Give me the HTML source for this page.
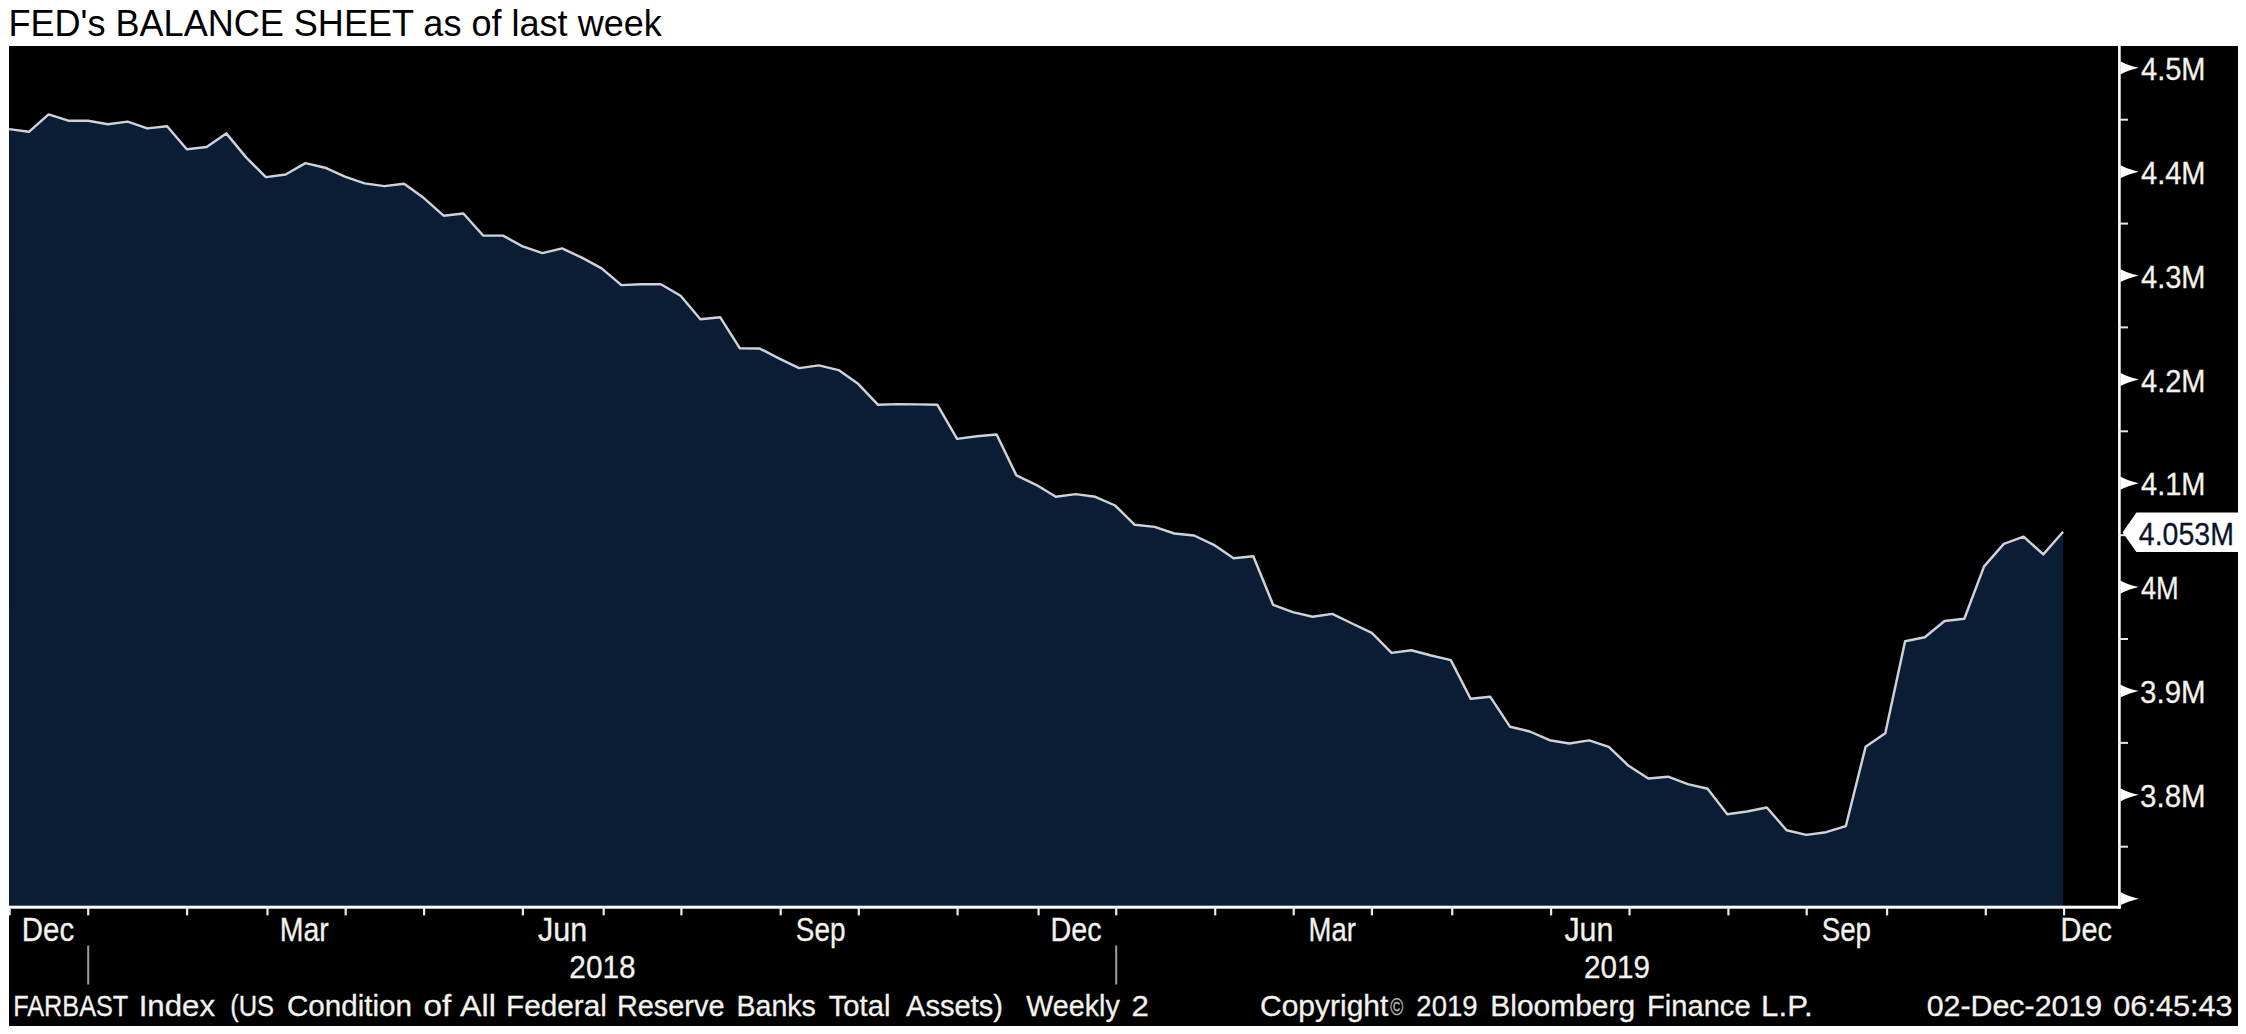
<!DOCTYPE html>
<html><head><meta charset="utf-8"><title>FED's BALANCE SHEET</title>
<style>
html,body{margin:0;padding:0;background:#fff;}
body{width:2246px;height:1034px;overflow:hidden;position:relative;font-family:"Liberation Sans",sans-serif;}
#title{position:absolute;left:8.5px;top:1.6px;font-size:36.05px;line-height:44px;color:#000;white-space:nowrap;}
#chart{position:absolute;left:9px;top:46px;width:2229px;height:980px;background:#000;}
svg text{font-family:"Liberation Sans",sans-serif;white-space:pre;}
</style></head><body>
<div id="title">FED's BALANCE SHEET as of last week</div>
<svg id="chart" width="2229" height="980" viewBox="0 0 2229 980">
<rect x="0" y="0" width="2229" height="980" fill="#000"/>
<path d="M0.1,83.1 L19.9,85.8 L39.6,68.4 L59.3,74.7 L79.1,74.7 L98.8,78.3 L118.6,75.6 L138.3,82.4 L158.1,80.3 L177.8,103.2 L197.6,101.0 L217.3,87.4 L237.1,111.4 L256.9,131.1 L276.6,128.5 L296.4,117.1 L316.1,121.7 L335.9,130.7 L355.6,137.4 L375.4,140.1 L395.1,137.8 L414.9,152.1 L434.6,169.7 L454.4,167.5 L474.1,189.5 L493.9,189.6 L513.6,200.3 L533.4,207.1 L553.1,202.4 L572.9,211.7 L592.6,222.4 L612.4,239.1 L632.1,238.2 L651.9,238.2 L671.6,249.8 L691.4,273.2 L711.1,271.2 L730.9,302.3 L750.6,302.5 L770.4,312.7 L790.1,322.1 L809.9,319.4 L829.6,324.1 L849.4,338.1 L869.1,358.8 L888.9,358.1 L908.6,358.4 L928.4,358.8 L948.1,392.9 L967.9,390.2 L987.6,388.5 L1007.4,429.4 L1027.1,438.8 L1046.8,450.8 L1066.6,448.1 L1086.3,450.8 L1106.1,459.5 L1125.8,478.8 L1145.6,480.9 L1165.3,487.5 L1185.1,489.5 L1204.8,498.8 L1224.6,512.2 L1244.3,510.2 L1264.1,558.8 L1283.8,566.1 L1303.6,570.8 L1323.3,567.9 L1343.1,577.5 L1362.8,586.8 L1382.6,606.9 L1402.3,604.2 L1422.1,609.5 L1441.8,614.1 L1461.6,652.8 L1481.3,650.8 L1501.1,680.8 L1520.8,685.5 L1540.6,694.2 L1560.3,697.5 L1580.1,694.4 L1599.8,700.8 L1619.6,719.8 L1639.3,732.5 L1659.1,730.7 L1678.8,738.1 L1698.6,742.8 L1718.3,768.2 L1738.1,765.5 L1757.8,761.5 L1777.6,784.2 L1797.3,788.9 L1817.1,786.2 L1836.8,780.2 L1856.6,700.8 L1876.3,687.2 L1896.1,595.2 L1915.8,591.2 L1935.6,575.0 L1955.3,572.7 L1975.1,520.4 L1994.8,497.9 L2014.6,490.7 L2034.3,508.4 L2054.1,485.8 L2054.1,861.2 L0,861.2 Z" fill="#0a1d35"/>
<path d="M0.1,83.1 L19.9,85.8 L39.6,68.4 L59.3,74.7 L79.1,74.7 L98.8,78.3 L118.6,75.6 L138.3,82.4 L158.1,80.3 L177.8,103.2 L197.6,101.0 L217.3,87.4 L237.1,111.4 L256.9,131.1 L276.6,128.5 L296.4,117.1 L316.1,121.7 L335.9,130.7 L355.6,137.4 L375.4,140.1 L395.1,137.8 L414.9,152.1 L434.6,169.7 L454.4,167.5 L474.1,189.5 L493.9,189.6 L513.6,200.3 L533.4,207.1 L553.1,202.4 L572.9,211.7 L592.6,222.4 L612.4,239.1 L632.1,238.2 L651.9,238.2 L671.6,249.8 L691.4,273.2 L711.1,271.2 L730.9,302.3 L750.6,302.5 L770.4,312.7 L790.1,322.1 L809.9,319.4 L829.6,324.1 L849.4,338.1 L869.1,358.8 L888.9,358.1 L908.6,358.4 L928.4,358.8 L948.1,392.9 L967.9,390.2 L987.6,388.5 L1007.4,429.4 L1027.1,438.8 L1046.8,450.8 L1066.6,448.1 L1086.3,450.8 L1106.1,459.5 L1125.8,478.8 L1145.6,480.9 L1165.3,487.5 L1185.1,489.5 L1204.8,498.8 L1224.6,512.2 L1244.3,510.2 L1264.1,558.8 L1283.8,566.1 L1303.6,570.8 L1323.3,567.9 L1343.1,577.5 L1362.8,586.8 L1382.6,606.9 L1402.3,604.2 L1422.1,609.5 L1441.8,614.1 L1461.6,652.8 L1481.3,650.8 L1501.1,680.8 L1520.8,685.5 L1540.6,694.2 L1560.3,697.5 L1580.1,694.4 L1599.8,700.8 L1619.6,719.8 L1639.3,732.5 L1659.1,730.7 L1678.8,738.1 L1698.6,742.8 L1718.3,768.2 L1738.1,765.5 L1757.8,761.5 L1777.6,784.2 L1797.3,788.9 L1817.1,786.2 L1836.8,780.2 L1856.6,700.8 L1876.3,687.2 L1896.1,595.2 L1915.8,591.2 L1935.6,575.0 L1955.3,572.7 L1975.1,520.4 L1994.8,497.9 L2014.6,490.7 L2034.3,508.4 L2054.1,485.8" fill="none" stroke="#cfd3d7" stroke-width="2.45" stroke-linejoin="round"/>
<rect x="0" y="859.7" width="2111.7" height="3" fill="#fff"/>
<rect x="2109.1" y="0" width="2.6" height="862.7" fill="#fff"/>
<rect x="0" y="861.2" width="1.8" height="8.2" fill="#e6e6e6"/><rect x="78.1" y="861.2" width="2.2" height="8.2" fill="#ececec"/><rect x="177.0" y="861.2" width="2.2" height="8.2" fill="#ececec"/><rect x="257.4" y="861.2" width="2.2" height="8.2" fill="#ececec"/><rect x="335.6" y="861.2" width="2.2" height="8.2" fill="#ececec"/><rect x="414.0" y="861.2" width="2.2" height="8.2" fill="#ececec"/><rect x="512.8" y="861.2" width="2.2" height="8.2" fill="#ececec"/><rect x="593.6" y="861.2" width="2.2" height="8.2" fill="#ececec"/><rect x="671.3" y="861.2" width="2.2" height="8.2" fill="#ececec"/><rect x="770.6" y="861.2" width="2.2" height="8.2" fill="#ececec"/><rect x="848.7" y="861.2" width="2.2" height="8.2" fill="#ececec"/><rect x="947.5" y="861.2" width="2.2" height="8.2" fill="#ececec"/><rect x="1028.5" y="861.2" width="2.2" height="8.2" fill="#ececec"/><rect x="1106.1" y="861.2" width="2.2" height="8.2" fill="#ececec"/><rect x="1205.1" y="861.2" width="2.2" height="8.2" fill="#ececec"/><rect x="1283.6" y="861.2" width="2.2" height="8.2" fill="#ececec"/><rect x="1361.8" y="861.2" width="2.2" height="8.2" fill="#ececec"/><rect x="1442.1" y="861.2" width="2.2" height="8.2" fill="#ececec"/><rect x="1541.0" y="861.2" width="2.2" height="8.2" fill="#ececec"/><rect x="1619.4" y="861.2" width="2.2" height="8.2" fill="#ececec"/><rect x="1718.3" y="861.2" width="2.2" height="8.2" fill="#ececec"/><rect x="1796.6" y="861.2" width="2.2" height="8.2" fill="#ececec"/><rect x="1877.0" y="861.2" width="2.2" height="8.2" fill="#ececec"/><rect x="1975.7" y="861.2" width="2.2" height="8.2" fill="#ececec"/><rect x="2054.0" y="861.2" width="2.2" height="8.2" fill="#ececec"/>
<rect x="78.2" y="899.5" width="2" height="39" fill="#9c9c9c"/><rect x="1106.2" y="899.5" width="2" height="39" fill="#9c9c9c"/>
<rect x="2110.4" y="72.7" width="8.6" height="2" fill="#e6e6e6"/><rect x="2110.4" y="176.6" width="8.6" height="2" fill="#e6e6e6"/><rect x="2110.4" y="280.4" width="8.6" height="2" fill="#e6e6e6"/><rect x="2110.4" y="384.3" width="8.6" height="2" fill="#e6e6e6"/><rect x="2110.4" y="488.2" width="8.6" height="2" fill="#e6e6e6"/><rect x="2110.4" y="592.0" width="8.6" height="2" fill="#e6e6e6"/><rect x="2110.4" y="695.9" width="8.6" height="2" fill="#e6e6e6"/><rect x="2110.4" y="799.7" width="8.6" height="2" fill="#e6e6e6"/>
<path d="M2111.4,15.2 Q2118.4,19.2 2129.7,21.8 Q2118.4,24.4 2111.4,28.4 Z" fill="#fff"/><path d="M2111.4,119.1 Q2118.4,123.1 2129.7,125.7 Q2118.4,128.3 2111.4,132.3 Z" fill="#fff"/><path d="M2111.4,222.9 Q2118.4,226.9 2129.7,229.5 Q2118.4,232.1 2111.4,236.1 Z" fill="#fff"/><path d="M2111.4,326.8 Q2118.4,330.8 2129.7,333.4 Q2118.4,336.0 2111.4,340.0 Z" fill="#fff"/><path d="M2111.4,430.6 Q2118.4,434.6 2129.7,437.2 Q2118.4,439.8 2111.4,443.8 Z" fill="#fff"/><path d="M2111.4,534.5 Q2118.4,538.5 2129.7,541.1 Q2118.4,543.7 2111.4,547.7 Z" fill="#fff"/><path d="M2111.4,638.4 Q2118.4,642.4 2129.7,645.0 Q2118.4,647.6 2111.4,651.6 Z" fill="#fff"/><path d="M2111.4,742.2 Q2118.4,746.2 2129.7,748.8 Q2118.4,751.4 2111.4,755.4 Z" fill="#fff"/><path d="M2111.4,846.1 Q2118.4,850.1 2129.7,852.7 Q2118.4,855.3 2111.4,859.3 Z" fill="#fff"/>
<path d="M2113.6,486.55 L2127.4,466.6 L2230,466.6 L2230,505.9 L2127.4,505.9 Z" fill="#fff"/>
<text transform="translate(2132.00,34.00) scale(0.9103,1)" font-size="31.9" fill="#f3f2ec" stroke="#f3f2ec" stroke-width="0.3">4.5M</text>
<text transform="translate(2132.00,137.86) scale(0.9103,1)" font-size="31.9" fill="#f3f2ec" stroke="#f3f2ec" stroke-width="0.3">4.4M</text>
<text transform="translate(2132.00,241.72) scale(0.9103,1)" font-size="31.9" fill="#f3f2ec" stroke="#f3f2ec" stroke-width="0.3">4.3M</text>
<text transform="translate(2132.00,345.58) scale(0.9103,1)" font-size="31.9" fill="#f3f2ec" stroke="#f3f2ec" stroke-width="0.3">4.2M</text>
<text transform="translate(2132.00,449.44) scale(0.9103,1)" font-size="31.9" fill="#f3f2ec" stroke="#f3f2ec" stroke-width="0.3">4.1M</text>
<text transform="translate(2132.00,553.30) scale(0.8530,1)" font-size="31.9" fill="#f3f2ec" stroke="#f3f2ec" stroke-width="0.3">4M</text>
<text transform="translate(2131.08,657.16) scale(0.9238,1)" font-size="31.9" fill="#f3f2ec" stroke="#f3f2ec" stroke-width="0.3">3.9M</text>
<text transform="translate(2131.08,761.02) scale(0.9238,1)" font-size="31.9" fill="#f3f2ec" stroke="#f3f2ec" stroke-width="0.3">3.8M</text>
<text transform="translate(12.80,894.90) scale(0.8994,1)" font-size="32.8" fill="#f3f2ec" stroke="#f3f2ec" stroke-width="0.3">Dec</text>
<text transform="translate(270.76,894.90) scale(0.8688,1)" font-size="32.8" fill="#f3f2ec" stroke="#f3f2ec" stroke-width="0.3">Mar</text>
<text transform="translate(528.90,894.90) scale(0.9315,1)" font-size="32.8" fill="#f3f2ec" stroke="#f3f2ec" stroke-width="0.3">Jun</text>
<text transform="translate(786.85,894.90) scale(0.8518,1)" font-size="32.8" fill="#f3f2ec" stroke="#f3f2ec" stroke-width="0.3">Sep</text>
<text transform="translate(1041.45,894.90) scale(0.8762,1)" font-size="32.8" fill="#f3f2ec" stroke="#f3f2ec" stroke-width="0.3">Dec</text>
<text transform="translate(1299.62,894.90) scale(0.8376,1)" font-size="32.8" fill="#f3f2ec" stroke="#f3f2ec" stroke-width="0.3">Mar</text>
<text transform="translate(1555.40,894.90) scale(0.9257,1)" font-size="32.8" fill="#f3f2ec" stroke="#f3f2ec" stroke-width="0.3">Jun</text>
<text transform="translate(1812.65,894.90) scale(0.8465,1)" font-size="32.8" fill="#f3f2ec" stroke="#f3f2ec" stroke-width="0.3">Sep</text>
<text transform="translate(2051.54,894.90) scale(0.8815,1)" font-size="32.8" fill="#f3f2ec" stroke="#f3f2ec" stroke-width="0.3">Dec</text>
<text transform="translate(560.37,931.50) scale(0.9349,1)" font-size="31.9" fill="#f3f2ec" stroke="#f3f2ec" stroke-width="0.3">2018</text>
<text transform="translate(1575.07,931.50) scale(0.9291,1)" font-size="31.9" fill="#f3f2ec" stroke="#f3f2ec" stroke-width="0.3">2019</text>
<text transform="translate(4.29,970.40) scale(0.8550,1)" font-size="29.5" fill="#f3f2ec" stroke="#f3f2ec" stroke-width="0.3">FARBAST</text>
<text transform="translate(129.68,970.40) scale(1.0594,1)" font-size="29.5" fill="#f3f2ec" stroke="#f3f2ec" stroke-width="0.3">Index</text>
<text transform="translate(221.13,970.40) scale(0.8651,1)" font-size="29.5" fill="#f3f2ec" stroke="#f3f2ec" stroke-width="0.3">(US</text>
<text transform="translate(277.90,970.40) scale(1.0046,1)" font-size="29.5" fill="#f3f2ec" stroke="#f3f2ec" stroke-width="0.3">Condition</text>
<text transform="translate(414.57,970.40) scale(1.1267,1)" font-size="29.5" fill="#f3f2ec" stroke="#f3f2ec" stroke-width="0.3">of</text>
<text transform="translate(451.00,970.40) scale(1.0919,1)" font-size="29.5" fill="#f3f2ec" stroke="#f3f2ec" stroke-width="0.3">All</text>
<text transform="translate(497.08,970.40) scale(1.0076,1)" font-size="29.5" fill="#f3f2ec" stroke="#f3f2ec" stroke-width="0.3">Federal</text>
<text transform="translate(607.94,970.40) scale(0.9791,1)" font-size="29.5" fill="#f3f2ec" stroke="#f3f2ec" stroke-width="0.3">Reserve</text>
<text transform="translate(727.57,970.40) scale(0.9667,1)" font-size="29.5" fill="#f3f2ec" stroke="#f3f2ec" stroke-width="0.3">Banks</text>
<text transform="translate(819.70,970.40) scale(0.9908,1)" font-size="29.5" fill="#f3f2ec" stroke="#f3f2ec" stroke-width="0.3">Total</text>
<text transform="translate(897.10,970.40) scale(0.9852,1)" font-size="29.5" fill="#f3f2ec" stroke="#f3f2ec" stroke-width="0.3">Assets)</text>
<text transform="translate(1017.30,970.40) scale(0.9717,1)" font-size="29.5" fill="#f3f2ec" stroke="#f3f2ec" stroke-width="0.3">Weekly</text>
<text transform="translate(1122.43,970.40) scale(1.0714,1)" font-size="29.1" fill="#f3f2ec" stroke="#f3f2ec" stroke-width="0.3">2</text>
<text transform="translate(1250.98,970.40) scale(1.0171,1)" font-size="29.5" fill="#f3f2ec" stroke="#f3f2ec" stroke-width="0.3">Copyright</text>
<text transform="translate(1407.36,970.40) scale(0.9450,1)" font-size="29.1" fill="#f3f2ec" stroke="#f3f2ec" stroke-width="0.3">2019</text>
<text transform="translate(1481.37,970.40) scale(1.0147,1)" font-size="29.5" fill="#f3f2ec" stroke="#f3f2ec" stroke-width="0.3">Bloomberg</text>
<text transform="translate(1638.03,970.40) scale(0.9869,1)" font-size="29.5" fill="#f3f2ec" stroke="#f3f2ec" stroke-width="0.3">Finance</text>
<text transform="translate(1752.08,970.40) scale(1.0590,1)" font-size="29.5" fill="#f3f2ec" stroke="#f3f2ec" stroke-width="0.3">L.P.</text>
<text transform="translate(1917.66,970.40) scale(1.0439,1)" font-size="29.1" fill="#f3f2ec" stroke="#f3f2ec" stroke-width="0.3">02-Dec-2019</text>
<text transform="translate(2104.35,970.40) scale(1.0516,1)" font-size="29.1" fill="#f3f2ec" stroke="#f3f2ec" stroke-width="0.3">06:45:43</text>
<text transform="translate(1381.20,968.50) scale(0.7706,1)" font-size="23.01" fill="#b9b9b4" stroke="#b9b9b4" stroke-width="0.3">&#169;</text>
<text transform="translate(2129.80,498.80) scale(0.8940,1)" font-size="31.9" fill="#0a1428" stroke="#0a1428" stroke-width="0.3">4.053M</text>

</svg>
</body></html>
